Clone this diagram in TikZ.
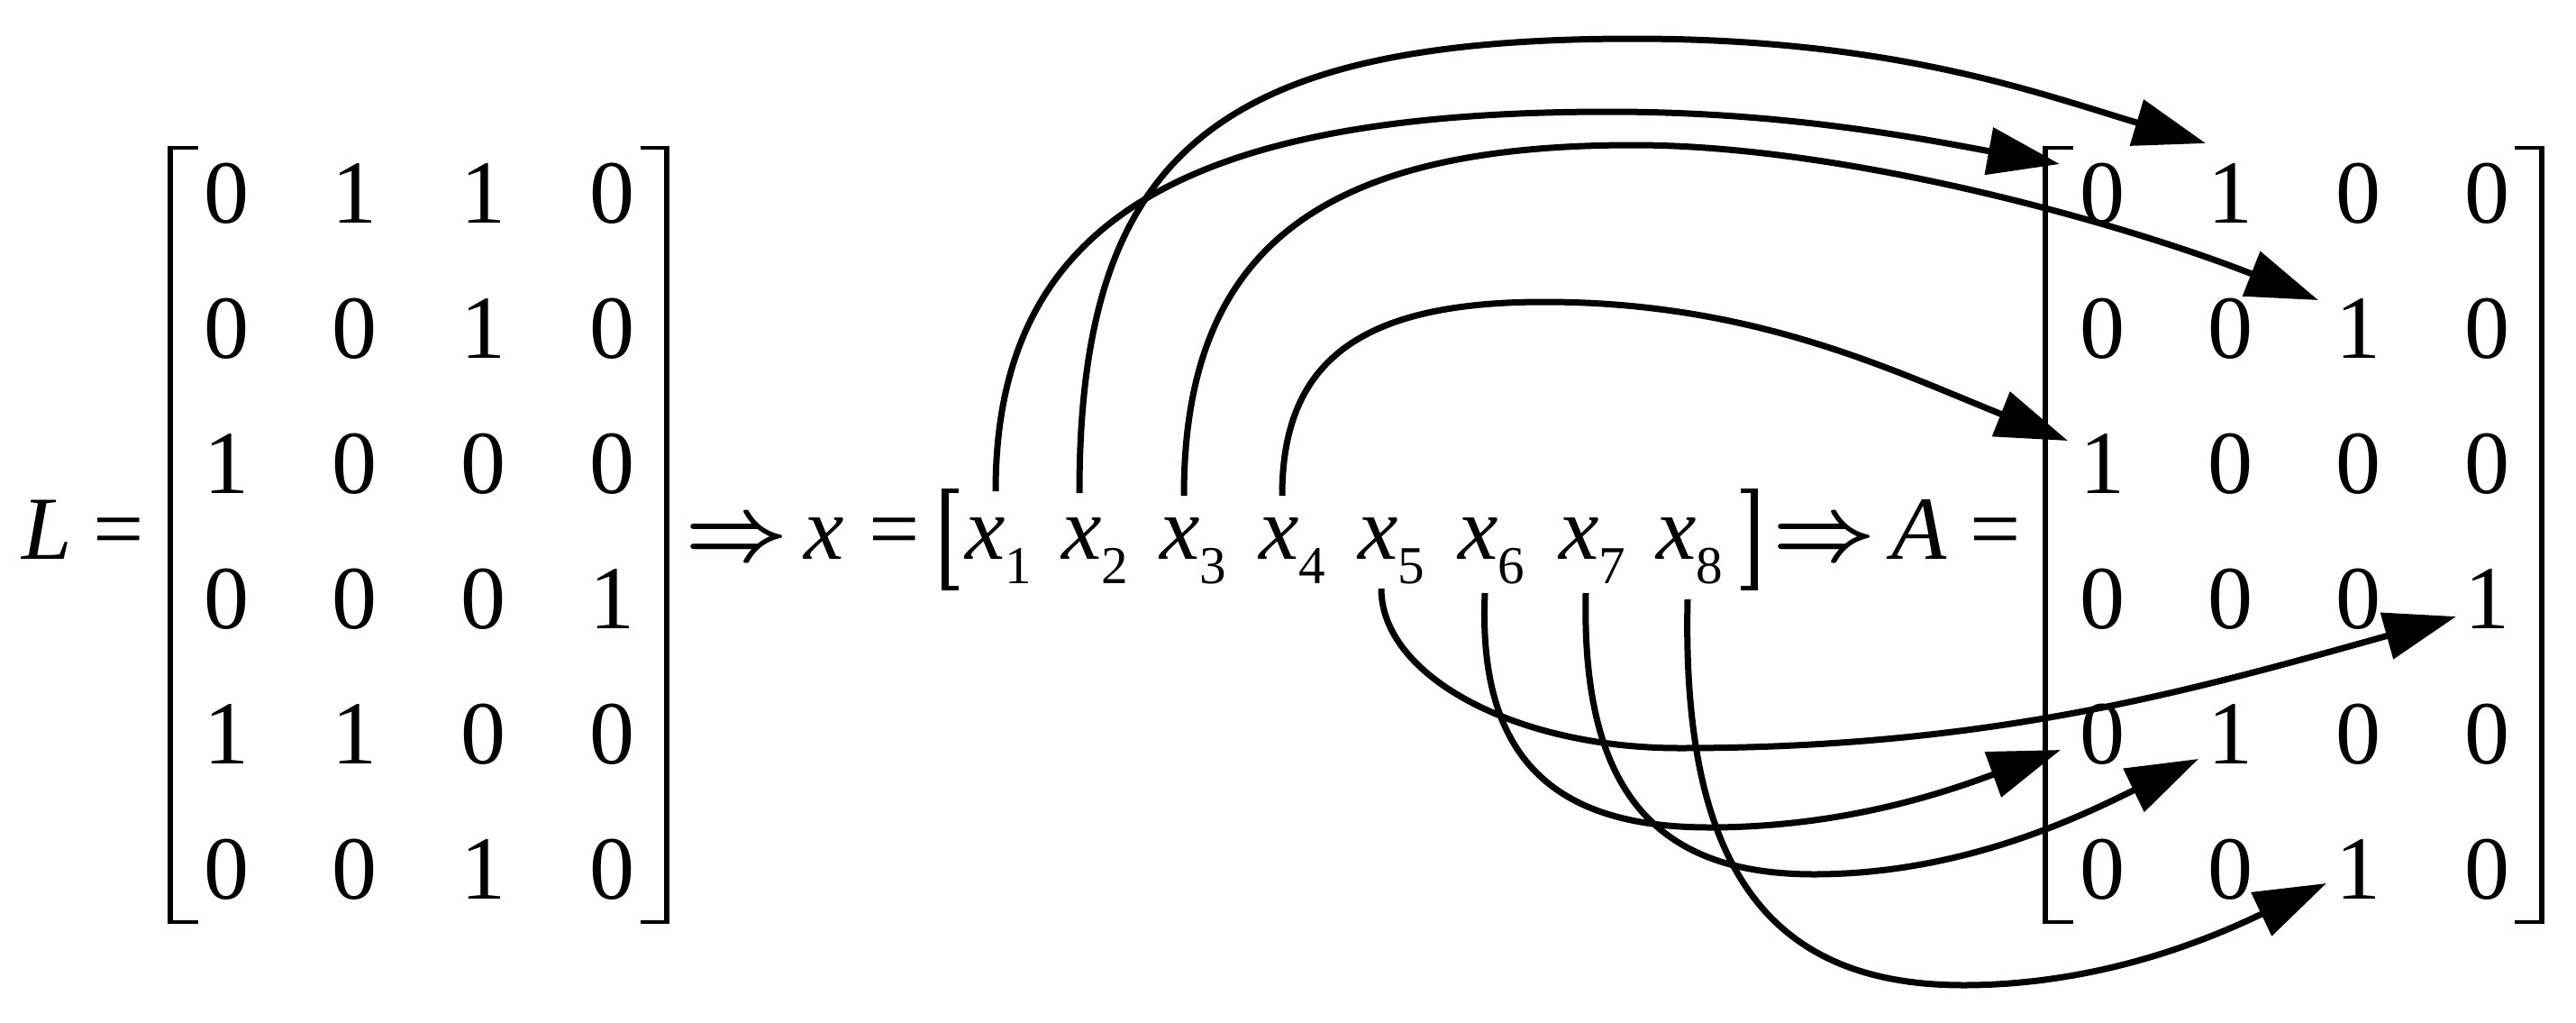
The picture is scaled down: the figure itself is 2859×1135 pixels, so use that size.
\documentclass[tikz,border=0pt]{standalone}
\usepackage{fontspec}
\setmainfont{Liberation Serif}
\usetikzlibrary{arrows.meta}
\newcommand{\myimp}{\mbox{\boldmath$\Rightarrow$}}
\begin{document}
\begin{tikzpicture}[x=0.25pt,y=-0.25pt,
  txt/.style={inner sep=0pt,anchor=base,font=\fontsize{25pt}{30pt}\selectfont},
  brk/.style={line width=1.4pt,line cap=butt},
  tick/.style={line width=0.95pt,line cap=butt},
  vbrk/.style={line width=2pt,line cap=butt},
  vtick/.style={line width=1.25pt,line cap=butt},
  link/.style={line width=1.75pt,-{Triangle[length=20pt,width=13pt]}}]
\useasboundingbox (0,0) rectangle (2859,1135);
% ---- left part: L = [ ... ]
\node[txt] (L) at (52,620) {\textit{L}};
\node[txt] (eq1) at (132,620) {=};
\foreach \row [count=\r] in {{0,1,1,0},{0,0,1,0},{1,0,0,0},{0,0,0,1},{1,1,0,0},{0,0,1,0}}{
  \foreach \v [count=\c] in \row {
    \node[txt] (l\r\c) at ({251+142.7*(\c-1)},{247+150*(\r-1)}) {\v};
  }
}
\draw[brk] (189,162) -- (189,1025);
\draw[tick] (186.5,163.8) -- (220,163.8);
\draw[tick] (186.5,1023.2) -- (220,1023.2);
\draw[brk] (740,162) -- (740,1025);
\draw[tick] (742.8,163.8) -- (711,163.8);
\draw[tick] (742.8,1023.2) -- (711,1023.2);
% ---- implies x = [x1 ... x8]
\node[txt] (imp1) at (818,620) {\myimp};
\node[txt] (xv) at (915,620) {\textit{x}};
\node[txt] (eq2) at (993,620) {=};
\draw[vbrk] (1049,542) -- (1049,655);
\draw[vtick] (1045,544.5) -- (1064,544.5);
\draw[vtick] (1045,652.5) -- (1064,652.5);
\draw[vbrk] (1947,542) -- (1947,655);
\draw[vtick] (1951,544.5) -- (1932,544.5);
\draw[vtick] (1951,652.5) -- (1932,652.5);
\foreach \i/\xx in {1/1108,2/1215,3/1324,4/1434,5/1544,6/1655,7/1767,8/1875}{
  \node[txt] (x\i) at (\xx,620) {\textit{x}{\fontsize{14.8pt}{18pt}\selectfont\raisebox{-6.75pt}{\i}}};
}
% ---- implies A = [ ... ]
\node[txt] (imp2) at (2025,620) {\myimp};
\node[txt] (A) at (2130,620) {\textit{A}};
\node[txt] (eq3) at (2215,620) {=};
\foreach \row [count=\r] in {{0,1,0,0},{0,0,1,0},{1,0,0,0},{0,0,0,1},{0,1,0,0},{0,0,1,0}}{
  \foreach \v [count=\c] in \row {
    \node[txt] (a\r\c) at ({2333+142.4*(\c-1)},{247+150*(\r-1)}) {\v};
  }
}
\draw[brk] (2270,162) -- (2270,1025);
\draw[tick] (2267.2,163.8) -- (2301,163.8);
\draw[tick] (2267.2,1023.2) -- (2301,1023.2);
\draw[brk] (2821,162) -- (2821,1025);
\draw[tick] (2823.8,163.8) -- (2791,163.8);
\draw[tick] (2823.8,1023.2) -- (2791,1023.2);
% ---- connector ends
\coordinate (s1) at (1105,545);
\coordinate (s2) at (1198,547);
\coordinate (s3) at (1314,550);
\coordinate (s4) at (1423,550);
\coordinate (s5) at (1533,653);
\coordinate (s6) at (1648,658);
\coordinate (s7) at (1760,658);
\coordinate (s8) at (1873,665);
\coordinate (t1) at (2286,182);
\coordinate (t2) at (2448,159);
\coordinate (t3) at (2573,333);
\coordinate (t4) at (2295,489);
\coordinate (t5) at (2726,684);
\coordinate (t6) at (2287,832);
\coordinate (t7) at (2440,842);
\coordinate (t8) at (2582,980);
% ---- connectors
\draw[link] (s1) .. controls (1105,249) and (1309,124) .. (1786,124)
                 .. controls (1986,124) and (2138,155) .. (t1);
\draw[link] (s2) .. controls (1198,168) and (1352,43) .. (1813,43)
                 .. controls (2099,43) and (2258,102) .. (t2);
\draw[link] (s3) .. controls (1314,277) and (1464,161) .. (1813,161)
                 .. controls (2050,161) and (2360,249) .. (t3);
\draw[link] (s4) .. controls (1423,400) and (1510,335) .. (1714,335)
                 .. controls (1946,335) and (2100,411) .. (t4);
\draw[link] (s5) .. controls (1533,750) and (1682,830) .. (1864,830)
                 .. controls (2209,830) and (2429,767) .. (t5);
\draw[link] (s6) .. controls (1640,840) and (1723,918) .. (1897,918)
                 .. controls (2053,918) and (2169,875) .. (t6);
\draw[link] (s7) .. controls (1755,876) and (1836,970) .. (2013,970)
                 .. controls (2184,970) and (2318,901) .. (t7);
\draw[link] (s8) .. controls (1866,965) and (1965,1093) .. (2179,1093)
                 .. controls (2340,1093) and (2466,1035) .. (t8);
\end{tikzpicture}
\end{document}
